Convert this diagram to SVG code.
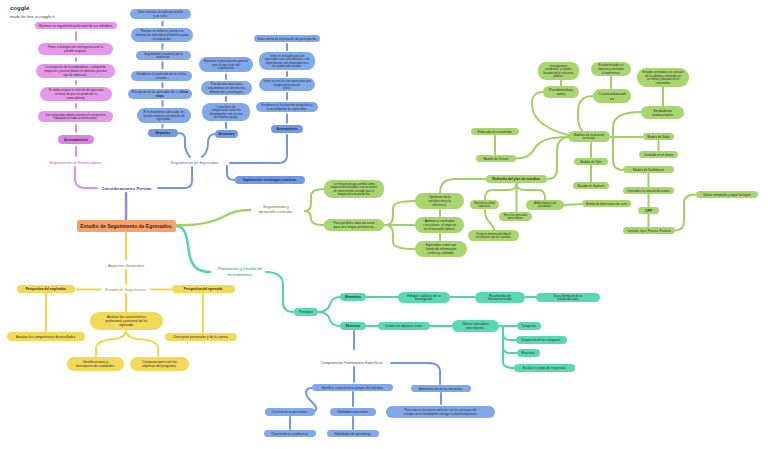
<svg xmlns="http://www.w3.org/2000/svg" width="768" height="449" viewBox="0 0 768 449">
<style>
text{font-family:"Liberation Sans",Arial,sans-serif;font-size:3px;fill:#2b2b2b;text-anchor:middle}
.b{font-weight:bold;font-size:3.6px}
.pk{fill:#e598e9}.pk2{fill:#d884e0}.bl{fill:#82a8ec}.bl2{fill:#7199e6}.gr{fill:#a9d56e}.tl{fill:#5ad8b4}.yl{fill:#f2d95a}.or{fill:#f5a36e}
.c path{fill:none;stroke-width:2;stroke-linecap:round}
.cp{stroke:#e08de8}.cb{stroke:#6f98e6}.cg{stroke:#a2d163}.ct{stroke:#52d3ae}.cy{stroke:#f1d54a}.cv{stroke:#8d8ae8}
.lab{font-size:4px}
</style>
<rect width="768" height="449" fill="#ffffff"/>
<text x="10" y="10" style="font-size:6px;font-weight:bold;text-anchor:start;fill:#333">coggle</text>
<text x="10" y="18" style="font-size:4px;text-anchor:start;fill:#444">made for free at coggle.it</text>

<g id="connectors" class="c">
<g class="cp">
<path d="M76,32 L76,40"/><path d="M76,58 L76,61"/><path d="M76,81 L76,84"/><path d="M76,104 L76,108"/><path d="M76,125 L76,132"/><path d="M76,147 L76,156"/>
<path d="M75,167 L75,179 Q75,188 86,188 L97,188"/>
</g>
<g class="cb">
<path d="M162.5,21.5 L162.5,25.5"/><path d="M162.5,44 L162.5,49"/><path d="M162.5,62 L162.5,68.5"/><path d="M162.5,83 L162.5,87"/><path d="M162.5,101 L162.5,106"/><path d="M162.5,125 L162.5,127.5"/>
<path d="M226,74.5 L226,79"/><path d="M226,97 L226,101"/><path d="M226,123 L226,128"/>
<path d="M287,44 L287,50"/><path d="M287,72 L287,76"/><path d="M287,93 L287,99.5"/><path d="M287,114.5 L287,122.5"/>
<path d="M178,133 Q186,133 185,141 Q184,150 190,157"/>
<path d="M215,134 Q208,134 208,143 Q208,152 202,157"/>
<path d="M287,135 L287,155 Q287,163 279,163 L230,163"/>
<path d="M192,167 L192,181 Q192,188 184,188 L158,188"/>
<path d="M227,166 L227,174 Q227,180 235,180"/>
<path d="M354,331 L354,349"/><path d="M354,367 L354,382"/>
<path d="M391,363 L429,363 Q440,363 440,372 L440,384"/>
<path d="M441,393 L441,404"/>
<path d="M312,388 C304,388 305,395 310,400 C315,405 318,408 315,411"/>
<path d="M353,392 L353,406"/><path d="M290,417 L290,429"/><path d="M353,417 L353,429"/>
</g>
<g class="cv"><path d="M126,193 L126,219" style="stroke-width:2.5"/></g>
<g class="cy">
<path d="M126,233 L126,259"/><path d="M126,270 L126,284"/>
<path d="M77,289.5 L101,289.5"/><path d="M151,289.5 L172,289.5"/>
<path d="M46,294 L46,331"/><path d="M203,294 L203,332"/><path d="M126,294 L126,311"/>
<path d="M126,331 Q126,337 115,339 Q97,340 96,348 L96,356"/>
<path d="M126,331 Q126,337 137,339 Q158,340 158,348 L158,356"/>
</g>
<g class="ct">
<path d="M176,226 C186,226 187,238 189,252 C191,266 197,272 210,272" style="stroke-width:2.5"/>
<path d="M266,272 Q283,272 283,285 L283,302 Q283,312 294,312"/>
<path d="M318,312 Q328,312 330,304 Q332,297 340,297"/><path d="M318,312 Q328,312 330,320 Q332,326 340,326"/>
<path d="M366,297 L398,297"/><path d="M450,297 L475,297"/><path d="M525,297 L536,297"/>
<path d="M366,326 L378,326"/><path d="M430,326 L452,326"/><path d="M499,326 L517,326"/>
<path d="M503,326 L503,362 Q503,368 514,368"/><path d="M503,333 Q503,340 510,340 L516,340"/><path d="M503,347 Q503,353 510,353 L517,353"/>
</g>
<g class="cg">
<path d="M176,225 C200,226 214,222 225,216 C233,211 240,210 250,210" style="stroke-width:2.5"/>
<path d="M305,211 Q311,211 311,203 L311,196 Q311,189 324,189"/><path d="M305,211 Q311,211 311,219 Q311,225 324,225"/>
<path d="M384,225 L415,225"/><path d="M386,225 Q393,225 393,215 L393,208 Q393,201 415,201"/><path d="M386,225 Q393,225 393,235 L393,242 Q393,249 415,249"/>
<path d="M440,210 L440,216"/><path d="M440,234 L440,240"/>
<path d="M440,193 Q440,179 455,179 L486,179"/>
<path d="M516.5,183 L516.5,212"/><path d="M516.5,184 Q516.5,190 508,190 L492,190 Q485,190 485,199"/><path d="M516.5,184 Q516.5,190 525,190 L539,190 Q545,190 545,199"/>
<path d="M485,210 Q485,218 490,223 Q494,227 494,230"/>
<path d="M564,205 L582,204"/>
<path d="M547,179 Q557,179 557,169 L557,150 Q557,139 568,137"/>
<path d="M543,92 Q531,92 532,106 Q534,126 568,135"/>
<path d="M593,96 Q579,96 578,110 Q577,124 582,131"/>
<path d="M591,142.5 L591,157"/><path d="M591,165.5 L591,181.5"/>
<path d="M610,137 L643,137"/>
<path d="M641,112 Q613,112 613,127 L613,160 Q613,170 623,170"/>
<path d="M658.5,140.5 L658.5,150.5"/>
<path d="M648.5,173.5 L648.5,186.5"/><path d="M648.5,194.5 L648.5,206.5"/><path d="M648.5,214.5 L648.5,226.5"/>
<path d="M675,230.5 Q684,230.5 684,221 L684,203 Q684,194.5 696,194.5"/>
<path d="M663,87.5 L663,105.5"/><path d="M611,76.5 L611,88.5"/><path d="M561,80.5 L561,85.5"/>
<path d="M495,135.5 L495,154.5"/>
<path d="M516,158.5 Q530,158.5 535,148 Q541,137 568,137"/>
</g>
</g>

<!-- Pink -->
<g id="p1"><rect class="pk" x="35" y="22" width="82" height="7" rx="3.5"/><text x="76" y="26.55">Mantener un seguimiento profesional de sus individuos.</text></g>
<g id="p2"><rect class="pk" x="38" y="43" width="75" height="12" rx="6"/><text><tspan x="75.5" y="48.25">Poner estrategias de contingencia ante la</tspan><tspan x="75.5" y="51.85">posible negativa.</tspan></text></g>
<g id="p3"><rect class="pk" x="36" y="64" width="79" height="14" rx="7"/><text><tspan x="75.5" y="68.45">La ocupación de lo empleadores, cantidad de</tspan><tspan x="75.5" y="72.05">empresas y puesto laboral en distintos puestos</tspan><tspan x="75.5" y="75.65">tipo de empresas.</tspan></text></g>
<g id="p4"><rect class="pk" x="40" y="87" width="72" height="14" rx="7"/><text><tspan x="76" y="91.45">Se debe mejorar la relación del egresado</tspan><tspan x="76" y="95.05">en base de que no quede de su</tspan><tspan x="76" y="98.65">conocimiento.</tspan></text></g>
<g id="p5"><rect class="pk" x="38" y="111" width="75" height="11" rx="5.5"/><text><tspan x="75.5" y="115.75">Los egresados deben avanzar el crecimiento</tspan><tspan x="75.5" y="119.35">trabajado en toda la institucional.</tspan></text></g>
<g id="p6"><rect class="pk2" x="58" y="135" width="36" height="9" rx="4.5"/><text class="b" x="76" y="140.9" style="font-style:italic">Acercamiento</text></g>
<g id="lab-emp"><text class="lab" x="75.5" y="163.5" style="fill:#c45ccc">Seguimiento de Empleadores</text></g>

<!-- Blue col1 -->
<g id="b1"><rect class="bl" x="130" y="9" width="61" height="10" rx="5"/><text><tspan x="160.5" y="13.25">Tener vínculos de todo personales</tspan><tspan x="160.5" y="16.85">y un estilo.</tspan></text></g>
<g id="b2"><rect class="bl" x="131" y="28" width="62" height="14" rx="7"/><text><tspan x="162" y="32.45">Plasmar un estilo en cuanto a la</tspan><tspan x="162" y="36.05">información obtenida y el beneficio para</tspan><tspan x="162" y="39.65">la evaluación.</tspan></text></g>
<g id="b3"><rect class="bl" x="136" y="51" width="55" height="9" rx="4.5"/><text><tspan x="163.5" y="54.75">Seguimiento constante por la</tspan><tspan x="163.5" y="58.35">institución.</tspan></text></g>
<g id="b4"><rect class="bl" x="131" y="71" width="61" height="10" rx="5"/><text><tspan x="161.5" y="75.25">Establecer el espectado de los títulos</tspan><tspan x="161.5" y="78.85">actuales.</tspan></text></g>
<g id="b5"><rect class="bl" x="128" y="89" width="64" height="10" rx="5"/><text><tspan x="160" y="93.25">Percepción de los egresados de su <tspan font-weight="bold">última</tspan></tspan><tspan x="160" y="96.85" font-weight="bold">etapa.</tspan></text></g>
<g id="b6"><rect class="bl" x="137" y="108" width="54" height="15" rx="7.5"/><text><tspan x="164" y="112.95">El reclutamiento adecuado, los</tspan><tspan x="164" y="116.55">hechos exitosos en relación de</tspan><tspan x="164" y="120.15">egresados.</tspan></text></g>
<g id="b7"><rect class="bl2" x="148" y="129" width="30" height="8" rx="4"/><text class="b" x="163" y="134.3" style="font-size:3.4px">Reportes</text></g>
<!-- Blue col2 -->
<g id="c1"><rect class="bl" x="199" y="57" width="54" height="15" rx="7.5"/><text><tspan x="226" y="61.95">Mantener el presupuesto general</tspan><tspan x="226" y="65.55">para la ejecución del</tspan><tspan x="226" y="69.15">seguimiento.</tspan></text></g>
<g id="c2"><rect class="bl" x="201" y="81" width="51" height="14" rx="7"/><text><tspan x="226.5" y="85.45">Plan de relaciones para</tspan><tspan x="226.5" y="89.05">seguimiento con de inscritos</tspan><tspan x="226.5" y="92.65">información y estrategias.</tspan></text></g>
<g id="c3"><rect class="bl" x="202" y="103" width="48" height="18" rx="8"/><text><tspan x="226" y="107.65">Crear base de</tspan><tspan x="226" y="111.25">comparación entre los</tspan><tspan x="226" y="114.85">desempeños con un uso</tspan><tspan x="226" y="118.45">de sistema apoyo.</tspan></text></g>
<g id="c4"><rect class="bl2" x="215" y="130" width="23" height="8" rx="4"/><text class="b" x="226.5" y="135.3" style="font-size:3.2px">Asistentes</text></g>
<!-- Blue col3 -->
<g id="d1"><rect class="bl" x="254" y="35" width="66" height="7" rx="3.5"/><text x="287" y="39.55">Estar atento de información de participación</text></g>
<g id="d2"><rect class="bl" x="259" y="52" width="56" height="18" rx="8"/><text><tspan x="287" y="56.65">Tener un reusable para los</tspan><tspan x="287" y="60.25">egresados con coincidencias, con</tspan><tspan x="287" y="63.85">experiencias con dependencia a</tspan><tspan x="287" y="67.45">los grados de estudio.</tspan></text></g>
<g id="d3"><rect class="bl" x="259" y="78" width="56" height="13" rx="6.5"/><text><tspan x="287" y="81.95">Tener un vínculo con egresados que</tspan><tspan x="287" y="85.55">tengan participación</tspan><tspan x="287" y="89.15">activa.</tspan></text></g>
<g id="d4"><rect class="bl" x="256" y="102" width="62" height="10" rx="5"/><text><tspan x="287" y="106.25">Establecer la localización geográfica y</tspan><tspan x="287" y="109.85">la movilidad de los egresados.</tspan></text></g>
<g id="d5"><rect class="bl2" x="271" y="125" width="32" height="8" rx="4"/><text class="b" x="287" y="130.3" style="font-size:3.2px">Acercamiento</text></g>
<g id="lab-egr"><text class="lab" x="194.5" y="163.5" style="fill:#4b72cc">Seguimiento de Egresados</text></g>
<g id="impl"><rect class="bl2" x="235" y="176" width="70" height="8" rx="4"/><text class="b" x="270" y="181.2" style="font-size:3.3px;fill:#1e2a55">Implementar estrategias creativas.</text></g>
<g id="consid"><text x="127" y="189.5" style="font-size:4.2px;font-weight:bold;fill:#3b3b8f">Consideraciones Previas.</text></g>

<!-- Root -->
<g id="root"><rect class="or" x="77" y="220" width="99" height="12" rx="2"/><text x="126.5" y="227.8" style="font-size:5px;font-weight:bold;fill:#3a2616">Estudio de Seguimiento de Egresados.</text></g>

<!-- Yellow -->
<g id="lab-asp"><text class="lab" x="126.5" y="266.5" style="fill:#7b6f25">Aspectos Generales.</text></g>
<g id="lab-est"><text x="125.5" y="291" style="font-size:3.8px;font-style:italic;fill:#9b8d3a">Estudio de Seguimiento</text></g>
<g id="y1"><rect class="yl" x="17" y="285" width="58" height="8" rx="4"/><text class="b" x="46" y="290.1" style="font-size:3.2px">Perspectiva del empleador.</text></g>
<g id="y2"><rect class="yl" x="172" y="285" width="63" height="8" rx="4"/><text class="b" x="203.5" y="290.1" style="font-size:3.2px">Perspectiva del egresado.</text></g>
<g id="y3"><rect class="yl" x="90" y="312" width="73" height="18" rx="9"/><text style="font-size:3.3px"><tspan x="126.5" y="318.45">Analizar las características</tspan><tspan x="126.5" y="322.05">profesional y personal de los</tspan><tspan x="126.5" y="325.65">egresado.</tspan></text></g>
<g id="y4"><rect class="yl" x="67" y="357" width="57" height="14" rx="7"/><text style="font-size:3.3px"><tspan x="95.5" y="363.25">Identificaciones y</tspan><tspan x="95.5" y="366.85">descripción de cualidades.</tspan></text></g>
<g id="y5"><rect class="yl" x="130" y="357" width="59" height="14" rx="7"/><text style="font-size:3.3px"><tspan x="159.5" y="363.25">Comparaciones con los</tspan><tspan x="159.5" y="366.85">objetivos del programa.</tspan></text></g>
<g id="y6"><rect class="yl" x="7" y="332" width="78" height="9" rx="4.5"/><text x="46" y="337.6" style="font-size:3.3px">Analizar las competencias desarrolladas.</text></g>
<g id="y7"><rect class="yl" x="165" y="333" width="72" height="8" rx="4"/><text x="201" y="338.1" style="font-size:3.3px">Conceptos personales y de la carrera.</text></g>

<!-- Teal -->
<g id="lab-plan"><text style="font-size:4.2px;fill:#1e8c70"><tspan x="240" y="270">Planeación y Diseño de</tspan><tspan x="240" y="275.5">Instrumentos.</tspan></text></g>
<g id="t1"><rect class="tl" x="294" y="308" width="24" height="8" rx="4"/><text x="306" y="313.1" style="font-size:3.2px">Personas</text></g>
<g id="t2"><rect class="tl" x="340" y="293" width="26" height="8" rx="4"/><text class="b" x="353" y="298.2" style="font-size:3.2px">Elementos</text></g>
<g id="t3"><rect class="tl" x="340" y="322" width="26" height="8" rx="4"/><text class="b" x="353" y="327.2" style="font-size:3.2px">Elemento</text></g>
<g id="t4"><rect class="tl" x="398" y="292" width="52" height="11" rx="5.5"/><text><tspan x="424" y="296.75">Enfoque cualitativo de un</tspan><tspan x="424" y="300.35">investigación.</tspan></text></g>
<g id="t5"><rect class="tl" x="475" y="292" width="50" height="11" rx="5.5"/><text><tspan x="500" y="296.75">Recomendación</tspan><tspan x="500" y="300.35">Semiestructurada.</tspan></text></g>
<g id="t6"><rect class="tl" x="536" y="293" width="64" height="9" rx="4.5"/><text style="font-size:2.6px"><tspan x="568" y="296.9">Busca información de un</tspan><tspan x="568" y="299.9">estudio adecuado.</tspan></text></g>
<g id="t7"><rect class="tl" x="378" y="322" width="52" height="8" rx="4"/><text x="404" y="327.1">Diseño con objetivos claros.</text></g>
<g id="t8"><rect class="tl" x="452" y="320" width="47" height="12" rx="6"/><text><tspan x="475.5" y="325.25">Obtener indicadores</tspan><tspan x="475.5" y="328.85">entre directos.</tspan></text></g>
<g id="t9"><rect class="tl" x="517" y="322" width="24" height="8" rx="4"/><text x="529" y="327.1">Categorías.</text></g>
<g id="t10"><rect class="tl" x="516" y="336" width="51" height="8" rx="4"/><text x="541.5" y="341.1">Disposición de las categorías.</text></g>
<g id="t11"><rect class="tl" x="517" y="349" width="23" height="8" rx="4"/><text x="528.5" y="354.1">Reactivos.</text></g>
<g id="t12"><rect class="tl" x="514" y="364" width="61" height="8" rx="4"/><text x="544.5" y="369.1">Escalas o rangos de respuestas.</text></g>

<!-- Blue lower -->
<g id="lab-comp"><text x="352" y="363.5" style="font-size:3.4px;fill:#2d4b99">Competencias Profesionales Específicas.</text></g>
<g id="e1"><rect class="bl" x="312" y="384" width="81" height="7" rx="3.5"/><text x="352.5" y="388.6">Identificar características propias del individuo.</text></g>
<g id="e2"><rect class="bl" x="411" y="385" width="60" height="7" rx="3.5"/><text x="441" y="389.6">Administración de las encuestas.</text></g>
<g id="e3"><rect class="bl" x="386" y="406" width="109" height="12" rx="6"/><text><tspan x="440.5" y="411.25">Para ésta es necesario contactar con las personas del</tspan><tspan x="440.5" y="414.85">estudio con la finalidad de entregar o devolver/postular.</tspan></text></g>
<g id="e4"><rect class="bl" x="265" y="408" width="50" height="8" rx="4"/><text x="290" y="413.1">Características personales.</text></g>
<g id="e5"><rect class="bl" x="264" y="430" width="52" height="7" rx="3.5"/><text x="290" y="434.6">Características académicas.</text></g>
<g id="e6"><rect class="bl" x="330" y="408" width="46" height="8" rx="4"/><text x="353" y="413.1">Habilidades personales.</text></g>
<g id="e7"><rect class="bl" x="327" y="430" width="52" height="7" rx="3.5"/><text x="353" y="434.6">Habilidades de aprendizaje.</text></g>

<!-- Green -->
<g id="lab-seg"><text style="font-size:3.8px;fill:#52731f"><tspan x="276" y="207.5">Seguimientos y</tspan><tspan x="276" y="212.5">desarrollo curricular.</tspan></text></g>
<g id="g1"><rect class="gr" x="324" y="180" width="60" height="18" rx="8"/><text style="font-size:2.8px"><tspan x="354" y="184.65">Lo relacionado que cambió como</tspan><tspan x="354" y="188.25">mayor profesionalidad, con un interés</tspan><tspan x="354" y="191.85">de conocimiento actuado para la</tspan><tspan x="354" y="195.45">integración con productos.</tspan></text></g>
<g id="g2"><rect class="gr" x="324" y="219" width="60" height="12" rx="6"/><text style="font-size:3.3px"><tspan x="354" y="224.25">Para posibles adecuaciones</tspan><tspan x="354" y="227.85">para una mayor pertinencia.</tspan></text></g>
<g id="g3"><rect class="gr" x="415" y="193" width="49" height="16" rx="8"/><text style="font-size:3.2px"><tspan x="439.5" y="198.45">Opiniones de la</tspan><tspan x="439.5" y="202.05">satisfacción y la</tspan><tspan x="439.5" y="205.65">eficiencia.</tspan></text></g>
<g id="g4"><rect class="gr" x="415" y="217" width="49" height="16" rx="8"/><text style="font-size:3.2px"><tspan x="439.5" y="222.45">Ámbitos y resultados</tspan><tspan x="439.5" y="226.05">curriculares, el impacto</tspan><tspan x="439.5" y="229.65">en el mercado laboral.</tspan></text></g>
<g id="g5"><rect class="gr" x="415" y="241" width="52" height="16" rx="8"/><text style="font-size:3.2px"><tspan x="441" y="246.45">Egresados como una</tspan><tspan x="441" y="250.05">fuente de información</tspan><tspan x="441" y="253.65">certera y confiable.</tspan></text></g>
<g id="g6"><rect class="gr" x="486" y="175" width="61" height="8" rx="4"/><text class="b" x="516.5" y="180.2" style="font-size:3.3px">Rediseño del plan de estudios.</text></g>
<g id="g7"><rect class="gr" x="470" y="200" width="29" height="9" rx="4.5"/><text style="font-size:2.6px"><tspan x="484.5" y="203.9">Nivel de la calidad</tspan><tspan x="484.5" y="206.9">educativa.</tspan></text></g>
<g id="g8"><rect class="gr" x="499" y="212" width="33" height="9" rx="4.5"/><text style="font-size:2.6px"><tspan x="515.5" y="215.9">Hacia los egresados</tspan><tspan x="515.5" y="218.9">universitarios.</tspan></text></g>
<g id="g9"><rect class="gr" x="526" y="200" width="38" height="10" rx="5"/><text style="font-size:2.6px"><tspan x="545" y="204.4">Ámbito laboral y de</tspan><tspan x="545" y="207.4">actividades.</tspan></text></g>
<g id="g10"><rect class="gr" x="468" y="230" width="51" height="11" rx="5.5"/><text style="font-size:2.8px"><tspan x="493.5" y="234.8">Conocer el mercado laboral</tspan><tspan x="493.5" y="237.9">en relación con las carreras.</tspan></text></g>
<g id="g11"><rect class="gr" x="582" y="200" width="49" height="7" rx="3.5"/><text x="606.5" y="204.6" style="font-size:2.8px">Modelo de dimensiones de curso</text></g>
<g id="g12"><rect class="gr" x="471" y="128" width="48" height="7" rx="3.5"/><text x="495" y="132.6" style="font-size:3.2px">Enfocado al consumidor.</text></g>
<g id="g13"><rect class="gr" x="476" y="155" width="40" height="7" rx="3.5"/><text x="496" y="159.6">Modelo de Scriven</text></g>
<g id="g14"><rect class="gr" x="568" y="131" width="42" height="11" rx="5.5"/><text style="font-size:3px"><tspan x="589" y="135.75">Modelos de evaluación</tspan><tspan x="589" y="139.35">curricular.</tspan></text></g>
<g id="g15"><rect class="gr" x="574" y="158" width="34" height="7" rx="3.5"/><text x="591" y="162.6">Modelo de Tyler</text></g>
<g id="g16"><rect class="gr" x="573" y="182" width="36" height="7" rx="3.5"/><text x="591" y="186.6">Basado en objetivos</text></g>
<g id="g17"><rect class="gr" x="643" y="133" width="31" height="7" rx="3.5"/><text x="658.5" y="137.6">Modelo de Stake</text></g>
<g id="g18"><rect class="gr" x="639" y="151" width="39" height="7" rx="3.5"/><text x="658.5" y="155.6">Centrado en el cliente</text></g>
<g id="g19"><rect class="gr" x="623" y="166" width="51" height="7" rx="3.5"/><text x="648.5" y="170.6">Modelo de Stufflebeam</text></g>
<g id="g20"><rect class="gr" x="623" y="187" width="51" height="7" rx="3.5"/><text x="648.5" y="191.6" style="font-size:2.8px">Orientado a la toma de decisiones</text></g>
<g id="g21"><rect class="gr" x="638" y="207" width="21" height="7" rx="3.5"/><text class="b" x="648.5" y="211.7" style="font-size:3px">CIPP</text></g>
<g id="g22"><rect class="gr" x="623" y="227" width="52" height="7" rx="3.5"/><text x="649" y="231.6" style="font-size:2.8px">Contexto, Input, Proceso, Producto</text></g>
<g id="g23"><rect class="gr" x="696" y="191" width="62" height="7" rx="3.5"/><text x="727" y="195.6" style="font-size:2.9px">Valorar, interpretar y juzgar los logros</text></g>
<g id="g24"><rect class="gr" x="641" y="106" width="43" height="13" rx="6.5"/><text style="font-size:3.6px"><tspan x="662.5" y="111.65">Verdaderas</tspan><tspan x="662.5" y="115.85">evaluaciones</tspan></text></g>
<g id="g25"><rect class="gr" x="637" y="68" width="52" height="19" rx="9"/><text style="font-size:2.8px"><tspan x="663" y="73.15">Estudios orientados a la solución</tspan><tspan x="663" y="76.75">de los dilemas, centrados en</tspan><tspan x="663" y="80.35">un cliente y basados en el</tspan><tspan x="663" y="83.95">consumidor.</tspan></text></g>
<g id="g26"><rect class="gr" x="593" y="89" width="38" height="14" rx="7"/><text style="font-size:3.8px"><tspan x="612" y="95.13">Cuasievaluacion</tspan><tspan x="612" y="99.53">es</tspan></text></g>
<g id="g27"><rect class="gr" x="591" y="62" width="40" height="14" rx="7"/><text style="font-size:2.7px"><tspan x="611" y="66.45">Estudios basados en</tspan><tspan x="611" y="70.05">objetivos y orientados</tspan><tspan x="611" y="73.65">al experimento.</tspan></text></g>
<g id="g28"><rect class="gr" x="543" y="86" width="36" height="12" rx="6"/><text style="font-size:3.6px"><tspan x="561" y="91.15">Pseudoevaluac</tspan><tspan x="561" y="95.35">iones</tspan></text></g>
<g id="g29"><rect class="gr" x="538" y="62" width="41" height="18" rx="8"/><text style="font-size:2.6px"><tspan x="558.5" y="66.65">Investigaciones</tspan><tspan x="558.5" y="70.25">encubiertas, y estudios</tspan><tspan x="558.5" y="73.85">basados en las relaciones</tspan><tspan x="558.5" y="77.45">públicas.</tspan></text></g>
</svg>
